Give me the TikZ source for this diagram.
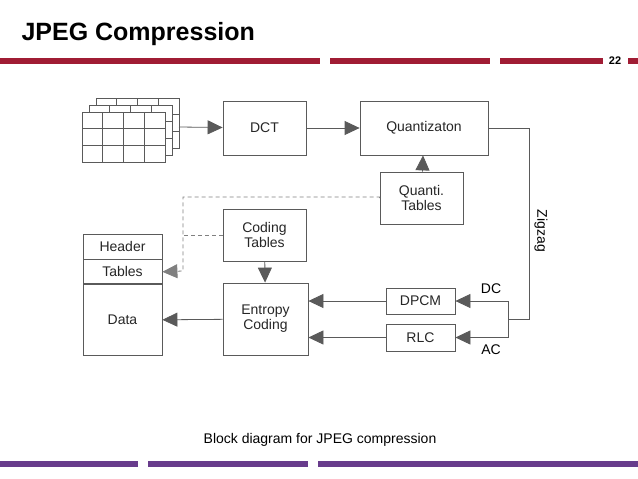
\documentclass[tikz,border=0pt]{standalone}
\usepackage{fontspec}
\setmainfont{Liberation Sans}
\usetikzlibrary{arrows.meta}
\definecolor{barred}{RGB}{160,28,52}
\definecolor{barpurple}{RGB}{104,60,140}
\definecolor{linegray}{RGB}{90,90,90}
\begin{document}
\begin{tikzpicture}[x=1pt,y=-1pt,
    blk/.style={draw=linegray,line width=0.8pt,inner sep=0pt,align=center,
      font=\fontsize{14}{15}\selectfont,text=black!85},
    tip/.style={-{Triangle[length=15pt,width=14pt]}},
    link/.style={draw=linegray,line width=0.8pt},
    dashlink/.style={draw=gray,line width=0.8pt,dash pattern=on 4pt off 3pt}]
  \useasboundingbox (0,0) rectangle (638,479);
  % title and bars
  \node[anchor=west,font=\fontsize{25}{27}\selectfont\bfseries] (title) at (18,34) {JPEG Compression};
  \fill[barred] (0,58) rectangle (320,64);
  \fill[barred] (330,58) rectangle (490,64);
  \fill[barred] (500,58) rectangle (603,64);
  \fill[barred] (628,58) rectangle (638,64);
  \node[font=\fontsize{11}{12}\selectfont\bfseries] (page) at (615,61) {22};
  \fill[barpurple] (0,461) rectangle (138,467);
  \fill[barpurple] (148,461) rectangle (308,467);
  \fill[barpurple] (318,461) rectangle (638,467);
  \node[font=\fontsize{14}{15}\selectfont] (caption) at (320,440) {Block diagram for JPEG compression};

  % image blocks
  \foreach \d in {14,7,0} {
    \begin{scope}[shift={(\d,-\d)}]
      \draw[linegray,line width=0.6pt,fill=white] (82,112) rectangle (165,162);
      \foreach \i in {1,2,3}
        \draw[linegray,line width=0.6pt] (82+20.75*\i,112) -- (82+20.75*\i,162);
      \foreach \j in {1,2}
        \draw[linegray,line width=0.6pt] (82,112+16.67*\j) -- (165,112+16.67*\j);
    \end{scope}
  }
  \coordinate (img) at (179,127);

  % blocks
  \node[blk,minimum width=83pt,minimum height=54pt] (dct) at (264.5,128) {DCT};
  \node[blk,minimum width=128pt,minimum height=54pt] (quant) at (424,128) {Quantizaton};
  \node[blk,minimum width=83pt,minimum height=52pt] (qtab) at (421.5,198) {Quanti.\\Tables};
  \node[blk,minimum width=83pt,minimum height=52pt] (ctab) at (264.5,235) {Coding\\Tables};
  \node[blk,minimum width=85pt,minimum height=72pt] (ent) at (265.5,319) {Entropy\\Coding};
  \node[blk,minimum width=69pt,minimum height=26pt] (dpcm) at (420.5,301) {DPCM};
  \node[blk,minimum width=69pt,minimum height=27pt] (rlc) at (420.5,337.5) {RLC};
  \node[blk,minimum width=79pt,minimum height=25pt] (head) at (122.5,246.5) {Header};
  \node[blk,minimum width=79pt,minimum height=24pt,anchor=north] (tabs) at (head.south) {Tables};
  \node[blk,minimum width=79pt,minimum height=71pt,anchor=north] (data) at (tabs.south) {Data};

  % connectors
  \draw[link,tip] (img) -- (dct);
  \draw[link,tip] (dct) -- (quant);
  \draw[link,tip] (qtab) -- (quant);
  \draw[link,tip] (ctab) -- (ent);
  \draw[link,tip] (ent) -- (data);
  \coordinate (zz) at (529,319);
  \coordinate (split) at (508,319);
  \draw[link] (quant.east) -| (zz) -- (split);
  \draw[link,tip] (split) |- (dpcm.east);
  \draw[link,tip] (split) |- (rlc.east);
  \draw[link,tip] (dpcm.west) -- (dpcm.west -| ent.east);
  \draw[link,tip] (rlc.west) -- (rlc.west -| ent.east);
  \draw[dashlink,tip] (qtab.west) -- ++(0,-1) -| (183,271) -- (tabs.east);
  \draw[dashlink] (ctab.west) -- (183,235);

  % labels
  \node[font=\fontsize{14}{15}\selectfont,rotate=-90] (zlab) at (541,231) {Zigzag};
  \node[font=\fontsize{14}{15}\selectfont] (dc) at (491,289) {DC};
  \node[font=\fontsize{14}{15}\selectfont] (ac) at (491,350) {AC};
\end{tikzpicture}
\end{document}
